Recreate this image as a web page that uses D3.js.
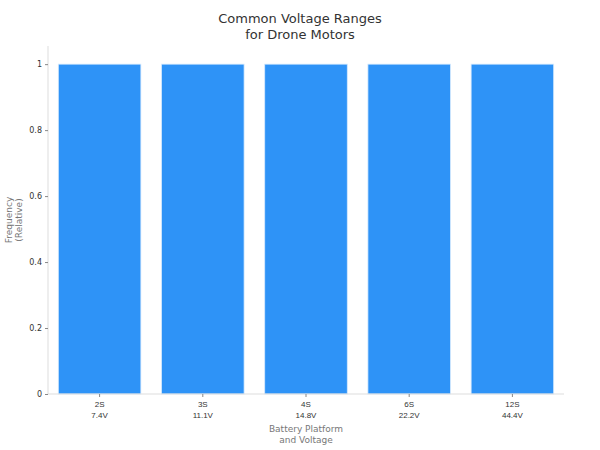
<!DOCTYPE html>
<html>
<head>
<meta charset="utf-8">
<script src="https://cdn.jsdelivr.net/npm/d3@7"></script>
<style>
  body { margin: 0; background: #fff; }
  svg { font-family: "DejaVu Sans", sans-serif; }
</style>
</head>
<body>
<div id="chart"></div>
<script>
// Chart data
const platforms = ['2S', '3S', '4S', '6S', '12S'];
const voltages = ['7.4V', '11.1V', '14.8V', '22.2V', '44.4V'];
const frequency = [1, 1, 1, 1, 1];
const yTicks = [0, 0.2, 0.4, 0.6, 0.8, 1];

;(function () {
  const margin = { left: 48, top: 46, right: 36, bottom: 56 };
  const width = 600 - margin.left - margin.right;
  const height = 450 - margin.top - margin.bottom;

  const svg = d3.select('#chart').append('svg')
    .attr('width', 600)
    .attr('height', 450);
  const frame = svg.append('g')
    .attr('transform', `translate(${margin.left} ${margin.top})`);

  const xScale = d3.scaleBand()
    .domain(platforms)
    .range([0, width])
    .paddingInner(0.2)
    .paddingOuter(0.1);
  const yScale = d3.scaleLinear()
    .domain([0, 1.055])
    .range([height, 0]);

  // Bars
  frame.append('g')
    .selectAll('rect')
    .data(platforms)
    .enter()
    .append('rect')
      .attr('x', d => xScale(d))
      .attr('y', (d, i) => yScale(frequency[i]))
      .attr('width', xScale.bandwidth())
      .attr('height', (d, i) => yScale(0) - yScale(frequency[i]))
      .attr('fill', '#2e93f7')
      .attr('stroke', '#d6eafd')
      .attr('stroke-width', 0.8);

  // Y axis
  const yAxis = frame.append('g')
    .call(d3.axisLeft(yScale).tickValues(yTicks).tickSize(3).tickPadding(3)
      .tickFormat(d3.format('~g')));
  // X axis
  const xAxis = frame.append('g')
    .attr('transform', `translate(0 ${height})`)
    .call(d3.axisBottom(xScale).tickSize(3).tickPadding(3).tickFormat(''));

  [yAxis, xAxis].forEach(a => {
    a.select('.domain').attr('stroke', '#ddd');
    a.selectAll('.tick line').attr('stroke', '#888');
    a.selectAll('.tick text').attr('fill', '#333').attr('font-size', 8)
      .attr('font-family', '"DejaVu Sans", sans-serif');
  });
  yAxis.select('.domain').attr('d', `M0,0V${height}`);
  xAxis.select('.domain').attr('d', `M0,0H${width}`);

  // two-line tick labels
  xAxis.selectAll('.tick').each(function (d, i) {
    const t = d3.select(this).append('text')
      .attr('fill', '#333')
      .attr('font-size', 8)
      .attr('text-anchor', 'middle')
      .attr('y', 13);
    t.append('tspan').attr('x', 0).text(d);
    t.append('tspan').attr('x', 0).attr('dy', 10.5).text(voltages[i]);
  });

  // Title
  const title = svg.append('text')
    .attr('text-anchor', 'middle')
    .attr('fill', '#333')
    .attr('font-size', 13)
    .attr('x', 300)
    .attr('y', 23);
  title.append('tspan').attr('x', 300).text('Common Voltage Ranges');
  title.append('tspan').attr('x', 300).attr('dy', 16).text('for Drone Motors');

  // Axis titles
  const xLabel = frame.append('text')
    .attr('text-anchor', 'middle')
    .attr('fill', '#777')
    .attr('font-size', 9)
    .attr('x', width / 2)
    .attr('y', height + 38);
  xLabel.append('tspan').attr('x', width / 2).text('Battery Platform');
  xLabel.append('tspan').attr('x', width / 2).attr('dy', 11).text('and Voltage');

  const yLabel = frame.append('text')
    .attr('text-anchor', 'middle')
    .attr('fill', '#777')
    .attr('font-size', 9)
    .attr('transform', `translate(${-36} ${height / 2}) rotate(-90)`);
  yLabel.append('tspan').attr('x', 0).text('Frequency');
  yLabel.append('tspan').attr('x', 0).attr('dy', 10).text('(Relative)');
})();
</script>
</body>
</html>
